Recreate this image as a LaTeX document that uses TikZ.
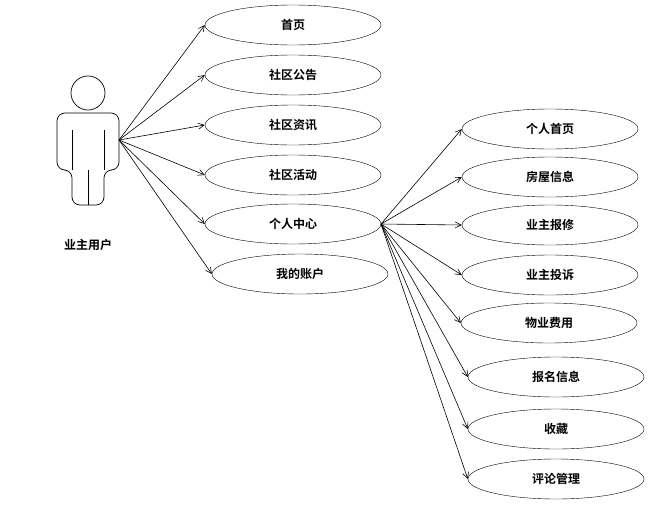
\documentclass[tikz,border=0pt]{standalone}
\usepackage{fontspec}
\newfontfamily\cjk{Noto Sans CJK SC}[BoldFont={* Bold}]
\usetikzlibrary{arrows.meta,shapes.geometric}
\begin{document}
\begin{tikzpicture}[x=1pt,y=-1pt,
  uc/.style={draw,ellipse,minimum width=176pt,minimum height=40pt,inner sep=0pt,font=\cjk\bfseries\fontsize{12}{14}\selectfont},
  ar/.style={-{Straight Barb[length=6pt,width=6pt]},line width=0.6pt}]
\useasboundingbox (0,0) rectangle (653,509);
\node[uc] (a1) at (293,25) {首页};
\node[uc] (a2) at (293,75) {社区公告};
\node[uc] (a3) at (293,125) {社区资讯};
\node[uc] (a4) at (293,175) {社区活动};
\node[uc] (a5) at (293,224) {个人中心};
\node[uc] (a6) at (300,274) {我的账户};
\node[uc] (b1) at (550,129) {个人首页};
\node[uc] (b2) at (550,177) {房屋信息};
\node[uc] (b3) at (550,225) {业主报修};
\node[uc] (b4) at (550,275) {业主投诉};
\node[uc] (b5) at (549,323) {物业费用};
\node[uc] (b6) at (556,377) {报名信息};
\node[uc] (b7) at (556,429) {收藏};
\node[uc] (b8) at (556,479) {评论管理};
% actor
\draw[line width=0.7pt] (88,93) circle (17);
\draw[line width=0.7pt,rounded corners=8pt] (72,205) -- (72,170) -- (57,170) -- (57,113) -- (119,113) -- (119,170) -- (104,170) -- (104,205) -- cycle;
\draw[line width=0.7pt] (72,130) -- (72,170) (104,130) -- (104,170) (88,170) -- (88,205);
\coordinate (act) at (119,140);
\node[font=\cjk\bfseries\fontsize{12}{14}\selectfont] (lab) at (88,245) {业主用户};
\foreach \n in {a1,a2,a3,a4,a5,a6} \draw[ar] (act) -- (\n.west);
\coordinate (pc) at (381,224);
\foreach \n in {b1,b2,b3,b4,b5,b6,b7,b8} \draw[ar] (pc) -- (\n.west);
\end{tikzpicture}
\end{document}
